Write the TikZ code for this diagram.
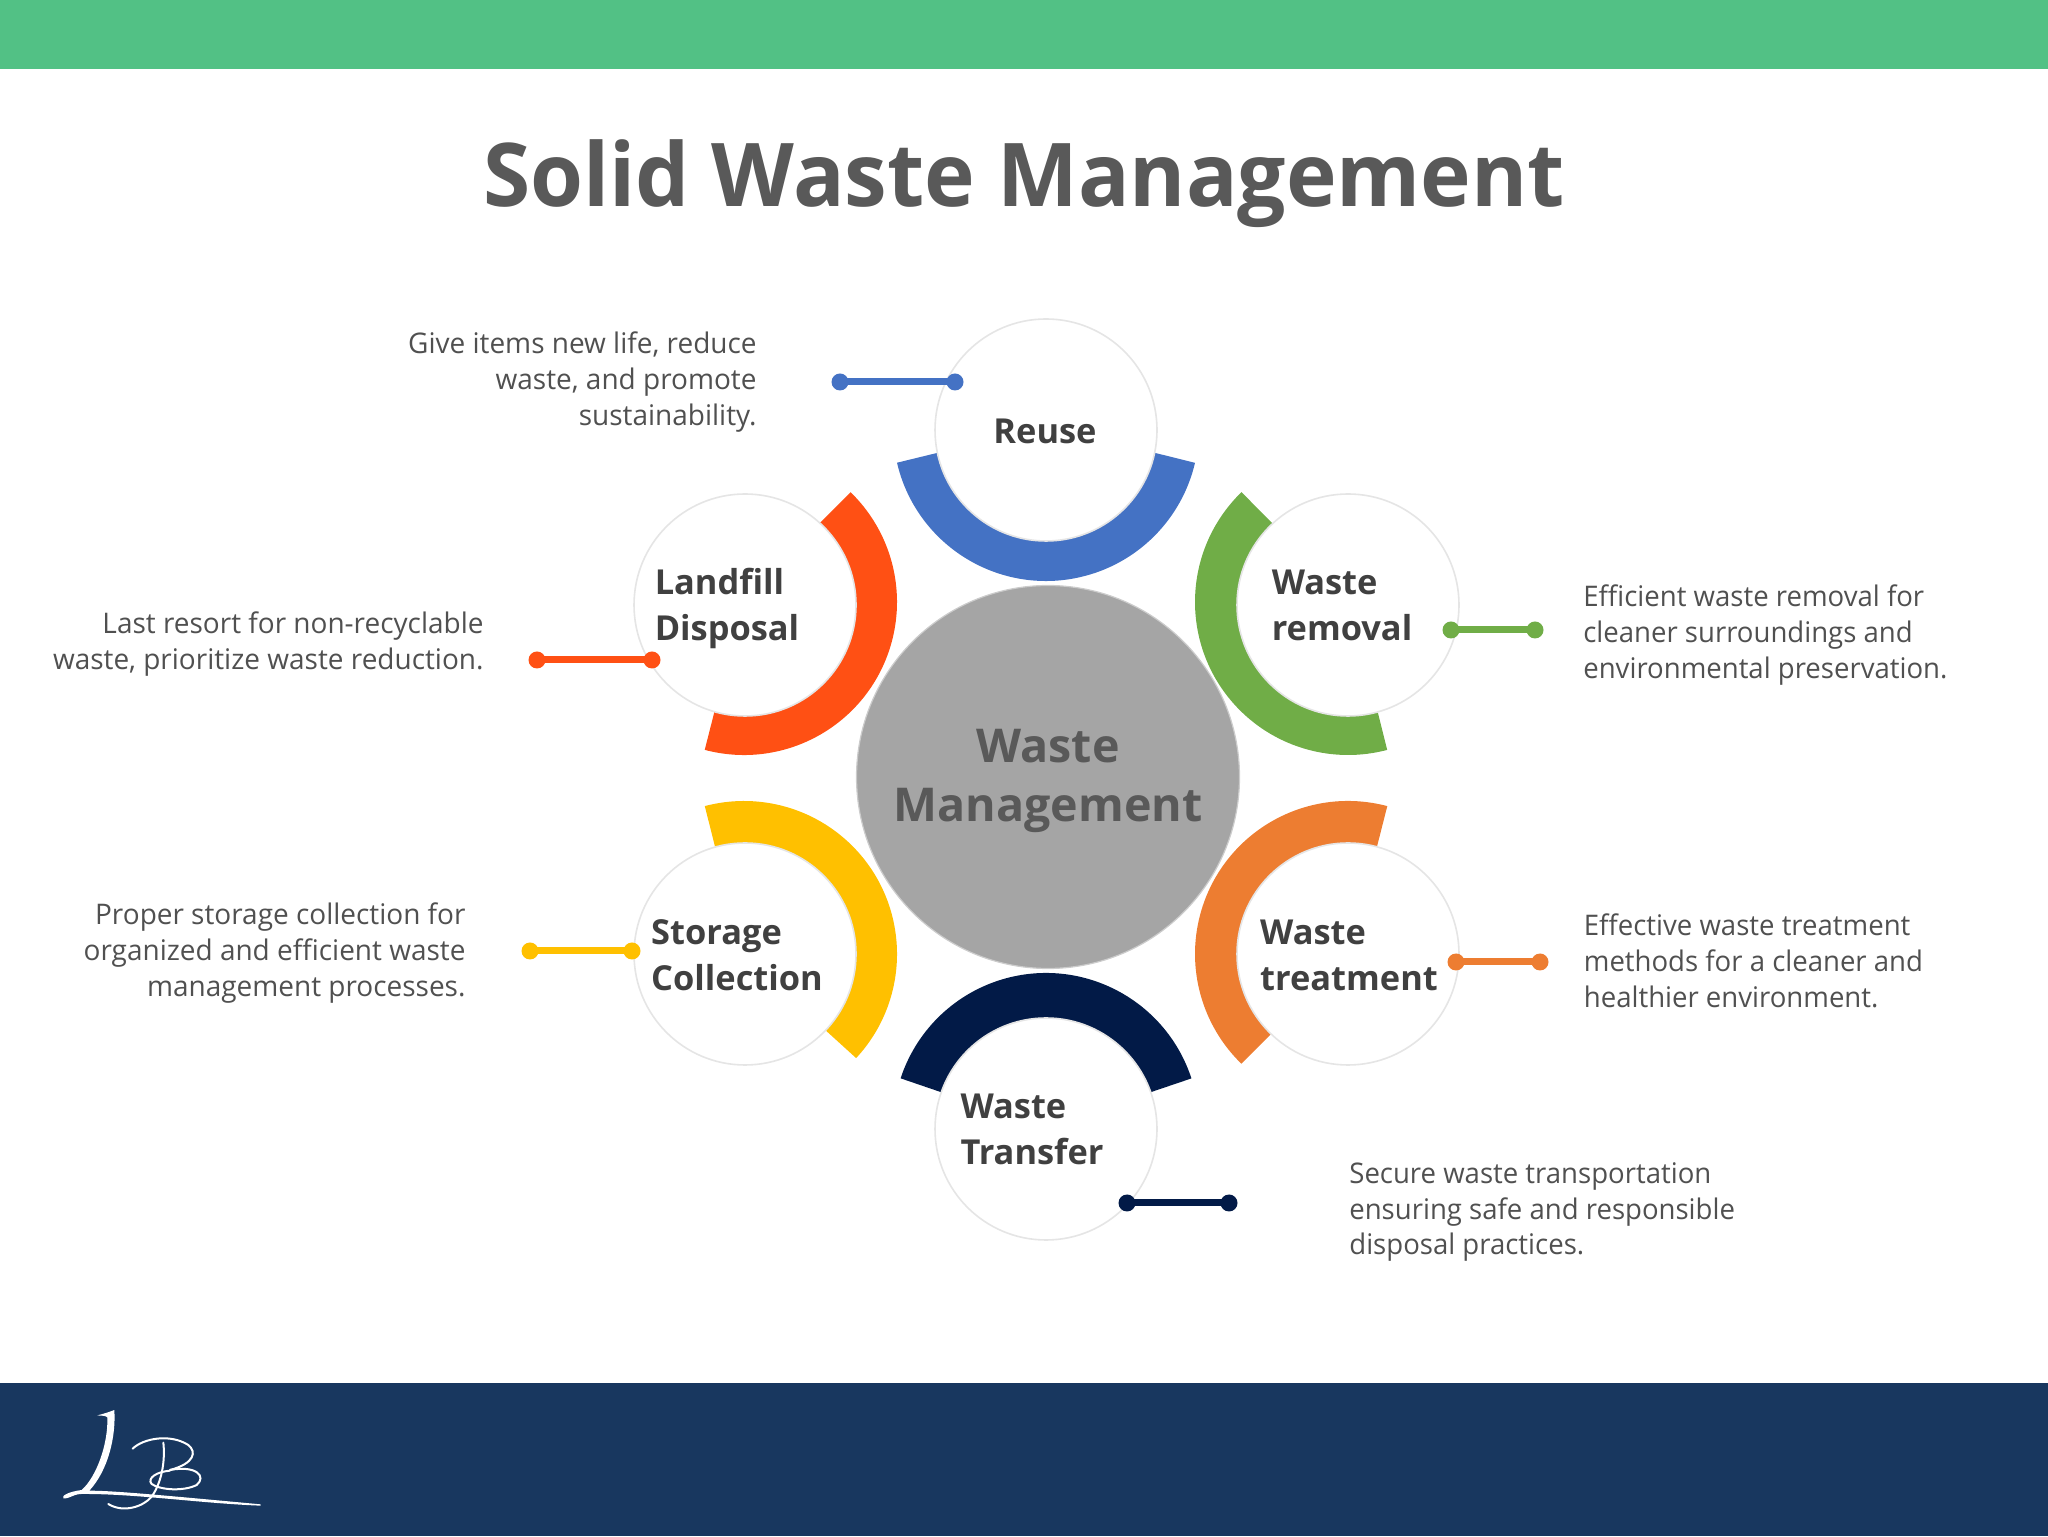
\documentclass[tikz,border=0pt]{standalone}
\usepackage{fontspec}
\setmainfont{Open Sans}
\usetikzlibrary{positioning}

\definecolor{topgreen}{HTML}{52C185}
\definecolor{footblue}{HTML}{18375F}
\definecolor{greytext}{HTML}{595959}
\definecolor{desctext}{HTML}{505050}
\definecolor{darktext}{HTML}{404040}
\definecolor{hubgrey}{HTML}{A5A5A5}
\definecolor{cblue}{HTML}{4472C4}
\definecolor{cgreen}{HTML}{70AD47}
\definecolor{corange}{HTML}{ED7D31}
\definecolor{cnavy}{HTML}{021A47}
\definecolor{cyellow}{HTML}{FFC000}
\definecolor{cred}{HTML}{FF5014}

\tikzset{
	petal/.style={circle,fill=white,draw=black!10,line width=0.8pt,minimum size=222*0.5pt,inner sep=0pt},
	ring/.style={line width=26.5pt},
	petaltext/.style={align=left,text=darktext,font=\bfseries\fontsize{17.2}{23}\selectfont},
	desc/.style={text=desctext,xscale=0.97,align=left,anchor=west,font=\fontsize{14.2}{17.9}\selectfont},
	descleft/.style={text=desctext,xscale=0.985,align=right,anchor=east,font=\fontsize{14.2}{17.9}\selectfont},
	pin/.style={circle,inner sep=0pt,minimum size=8.5pt},
	stem/.style={line width=3.5pt,shorten >=-1pt,shorten <=-1pt},
	logostroke/.style={draw=white,line width=1pt,line cap=round}
}

\begin{document}
\begin{tikzpicture}[x=0.5pt,y=0.5pt]
	\useasboundingbox (0,0) rectangle (2048,1536);
	\fill[topgreen] (0,1467) rectangle (2048,1536);
	\fill[footblue] (0,0) rectangle (2048,153);
	\node[text=greytext,xscale=0.973,font=\bfseries\fontsize{44}{50}\selectfont] (title) at (1024,1352) {Solid Waste Management};

	% hub and petals
	\node[circle,fill=hubgrey,draw=black!20,line width=0.6pt,minimum size=383*0.5pt,inner sep=0pt] (hub) at (1048,759) {};
	\node[align=center,text=greytext,font=\bfseries\fontsize{23.3}{29.5}\selectfont] (hubtext) at (1048,755) {Waste\\Management};

	\coordinate (reusec) at (1046,1108);
	\coordinate (removalc) at (1348,934);
	\coordinate (treatmentc) at (1348,582);
	\coordinate (transferc) at (1046,410);
	\coordinate (storagec) at (744,582);
	\coordinate (landfillc) at (744,934);

	\draw[ring,cblue] ([shift={(193:126.5)}]reusec) arc[start angle=193,end angle=347,radius=126.5];
	\draw[ring,cgreen] ([shift={(134:126.5)}]removalc) arc[start angle=134,end angle=285,radius=126.5];
	\draw[ring,corange] ([shift={(75:126.5)}]treatmentc) arc[start angle=75,end angle=226,radius=126.5];
	\draw[ring,cnavy] ([shift={(18:126.5)}]transferc) arc[start angle=18,end angle=162,radius=126.5];
	\draw[ring,cyellow] ([shift={(-43:126.5)}]storagec) arc[start angle=-43,end angle=105,radius=126.5];
	\draw[ring,cred] ([shift={(-105:126.5)}]landfillc) arc[start angle=-105,end angle=46,radius=126.5];

	\node[petal] (reuse) at (1046,1106) {};
	\node[petal] (removal) at (1348,931) {};
	\node[petal] (treatment) at (1348,582) {};
	\node[petal] (transfer) at (1046,407) {};
	\node[petal] (storage) at (745,582) {};
	\node[petal] (landfill) at (745,931) {};

	\node[petaltext] (reusetext) at (1045,1105) {Reuse};
	\node[petaltext] (removaltext) at (1342,931) {Waste\\removal};
	\node[petaltext] (treatmenttext) at (1349,581) {Waste\\treatment};
	\node[petaltext] (transfertext) at (1032,407) {Waste\\Transfer};
	\node[petaltext] (storagetext) at (737,581) {Storage\\Collection};
	\node[petaltext] (landfilltext) at (727,928) {Landfill\\Disposal};

	% pins
	\node[pin,fill=cblue] (reusea) at (840,1154) {};
	\node[pin,fill=cblue] (reuseb) at (955,1154) {};
	\draw[stem,cblue] (reusea) -- (reuseb);
	\node[pin,fill=cgreen] (removala) at (1451,906) {};
	\node[pin,fill=cgreen] (removalb) at (1535,906) {};
	\draw[stem,cgreen] (removala) -- (removalb);
	\node[pin,fill=corange] (treatmenta) at (1456,574) {};
	\node[pin,fill=corange] (treatmentb) at (1540,574) {};
	\draw[stem,corange] (treatmenta) -- (treatmentb);
	\node[pin,fill=cnavy] (transfera) at (1127,333) {};
	\node[pin,fill=cnavy] (transferb) at (1229,333) {};
	\draw[stem,cnavy] (transfera) -- (transferb);
	\node[pin,fill=cyellow] (storagea) at (530,585) {};
	\node[pin,fill=cyellow] (storageb) at (632,585) {};
	\draw[stem,cyellow] (storagea) -- (storageb);
	\node[pin,fill=cred] (landfilla) at (537,876) {};
	\node[pin,fill=cred] (landfillb) at (652,876) {};
	\draw[stem,cred] (landfilla) -- (landfillb);

	% descriptions
	\node[descleft] (reusedesc) at (763.5,1154) {Give items new life, reduce\\waste, and promote\\sustainability.};
	\node[desc] (removaldesc) at (1576.5,901) {Efficient waste removal for\\cleaner surroundings and\\environmental preservation.};
	\node[desc] (treatmentdesc) at (1577,575) {Effective waste treatment\\methods for a cleaner and\\healthier environment.};
	\node[desc] (transferdesc) at (1342.5,324) {Secure waste transportation\\ensuring safe and responsible\\disposal practices.};
	\node[descleft] (storagedesc) at (472.5,583) {Proper storage collection for\\organized and efficient waste\\management processes.};
	\node[descleft] (landfilldesc) at (490.5,892) {Last resort for non-recyclable\\waste, prioritize waste reduction.};

	% signature
	\begin{scope}[x=0.16667pt,y=-0.16667pt,yshift=98pt]
		\fill[white] (292,226) .. controls (310,222) and (330,215) .. (343,210)
			.. controls (348,290) and (325,390) .. (268,452)
			.. controls (340,452) and (480,465) .. (782,493)
			-- (782,497)
			.. controls (600,490) and (400,460) .. (240,462)
			.. controls (215,465) and (205,478) .. (190,475)
			.. controls (183,468) and (205,455) .. (245,450)
			.. controls (290,410) and (325,310) .. (322,232)
			.. controls (315,225) and (300,228) .. (292,226) -- cycle;
		\path[logostroke] (398,326) .. controls (430,295) and (510,280) .. (565,315)
			.. controls (590,335) and (585,370) .. (510,390);
		\path[logostroke] (510,390) .. controls (590,375) and (620,410) .. (590,435)
			.. controls (550,455) and (480,450) .. (455,432)
			.. controls (440,415) and (470,395) .. (510,392);
		\path[logostroke] (490,308) .. controls (495,350) and (490,420) .. (455,470)
			.. controls (430,500) and (370,520) .. (325,492);
	\end{scope}
\end{tikzpicture}
\end{document}
